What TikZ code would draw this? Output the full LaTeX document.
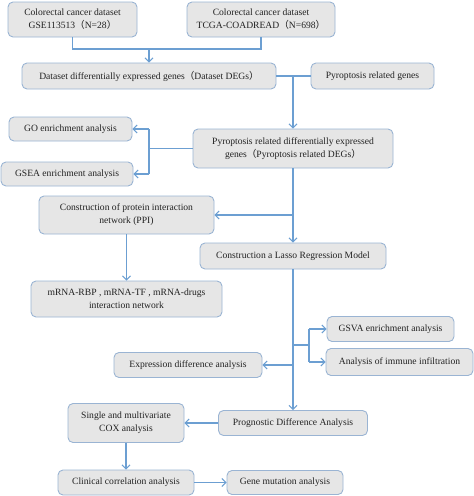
\documentclass[tikz,border=0pt]{standalone}
\usepackage{fontspec}
\setmainfont{Liberation Serif}
\newfontfamily\cjk{Noto Sans CJK SC}
\usetikzlibrary{arrows.meta}
\definecolor{boxfill}{HTML}{E6E6E6}
\definecolor{boxline}{HTML}{9AB4D3}
\definecolor{conn}{HTML}{6C9FD2}
\definecolor{txt}{HTML}{222222}
\newcommand{\lpar}{{\cjk （}}
\newcommand{\rpar}{{\cjk ）}}
\tikzset{
  box/.style={draw=boxline, fill=boxfill, line width=0.9pt, rounded corners=5pt,
    align=center, text=txt, inner sep=1pt,
    font=\fontsize{9.6}{13}\selectfont},
  conline/.style={draw=conn, line width=1.1pt},
  arr/.style={conline, -{Straight Barb[length=4pt,width=8pt,line width=1pt]}}
}
\begin{document}
\begin{tikzpicture}[x=1pt,y=-1pt]
\useasboundingbox (0,0) rectangle (474,496);
\node[box, minimum width=129pt, minimum height=35pt] (b1) at (72.5,19.5) {Colorectal cancer dataset\\GSE113513\lpar N=28\rpar};
\node[box, minimum width=148pt, minimum height=35pt] (b2) at (261,19.5) {Colorectal cancer dataset\\TCGA-COADREAD\lpar N=698\rpar};
\node[box, minimum width=254pt, minimum height=26pt] (b3) at (149,76) {Dataset differentially expressed genes\lpar Dataset DEGs\rpar};
\node[box, minimum width=123pt, minimum height=26pt] (b4) at (372.5,76) {Pyroptosis related genes};
\node[box, minimum width=200pt, minimum height=39pt] (b5) at (293,148.5) {Pyroptosis related differentially expressed\\genes\lpar Pyroptosis related DEGs\rpar};
\node[box, minimum width=123pt, minimum height=24pt] (go) at (70.5,129) {GO enrichment analysis};
\node[box, minimum width=132pt, minimum height=24pt] (gsea) at (67,174) {GSEA enrichment analysis};
\node[box, minimum width=175pt, minimum height=38pt] (ppi) at (126.5,215) {Construction of protein interaction\\network (PPI)};
\node[box, minimum width=186pt, minimum height=26pt] (lasso) at (293,256) {Construction a Lasso Regression Model};
\node[box, minimum width=191pt, minimum height=36pt] (mrna) at (126.5,299) {mRNA-RBP , mRNA-TF , mRNA-drugs\\interaction network};
\node[box, minimum width=127pt, minimum height=25pt] (gsva) at (390.5,329) {GSVA enrichment analysis};
\node[box, minimum width=147pt, minimum height=27pt] (immune) at (399.5,362) {Analysis of immune infiltration};
\node[box, minimum width=148pt, minimum height=25pt] (expr) at (188,365) {Expression difference analysis};
\node[box, minimum width=149pt, minimum height=25pt] (prog) at (293,423) {Prognostic Difference Analysis};
\node[box, minimum width=116pt, minimum height=39pt] (cox) at (126,423) {Single and multivariate\\COX analysis};
\node[box, minimum width=136pt, minimum height=25pt] (clin) at (126,482.5) {Clinical correlation analysis};
\node[box, minimum width=116pt, minimum height=24pt] (gene) at (285,482.5) {Gene mutation analysis};
% junctions
\coordinate (j1a) at (72.5,49);
\coordinate (j1b) at (261,49);
\coordinate (j1) at (149,49);
\coordinate (j2) at (293,76);
\coordinate (j3) at (149,148.5);
\coordinate (ga) at (149,129);
\coordinate (gb) at (149,174);
\coordinate (j4) at (293,215);
\coordinate (j5) at (293,345);
\coordinate (j5b) at (309,345);
\coordinate (ka) at (309,329);
\coordinate (kb) at (309,362);
\coordinate (j6) at (293,365);
% connectors
\draw[conline] (b1.south) -- (j1a) -- (j1b) -- (b2.south);
\draw[arr] (j1) -- (b3.north);
\draw[conline] (b3.east) -- (b4.west);
\draw[arr] (j2) -- (b5.north);
\draw[conline] (b5.west) -- (j3);
\draw[conline] (ga) -- (gb);
\draw[arr] (ga) -- (go.east);
\draw[arr] (gb) -- (gsea.east);
\draw[arr] (b5.south) -- (lasso.north);
\draw[arr] (j4) -- (ppi.east);
\draw[arr] (ppi.south) -- (mrna.north);
\draw[arr] (lasso.south) -- (prog.north);
\draw[conline] (j5) -- (j5b);
\draw[conline] (ka) -- (kb);
\draw[arr] (ka) -- (gsva.west);
\draw[arr] (kb) -- (immune.west);
\draw[arr] (j6) -- (expr.east);
\draw[arr] (prog.west) -- (cox.east);
\draw[arr] (cox.south) -- (clin.north);
\draw[arr] (clin.east) -- (gene.west);
\end{tikzpicture}
\end{document}
